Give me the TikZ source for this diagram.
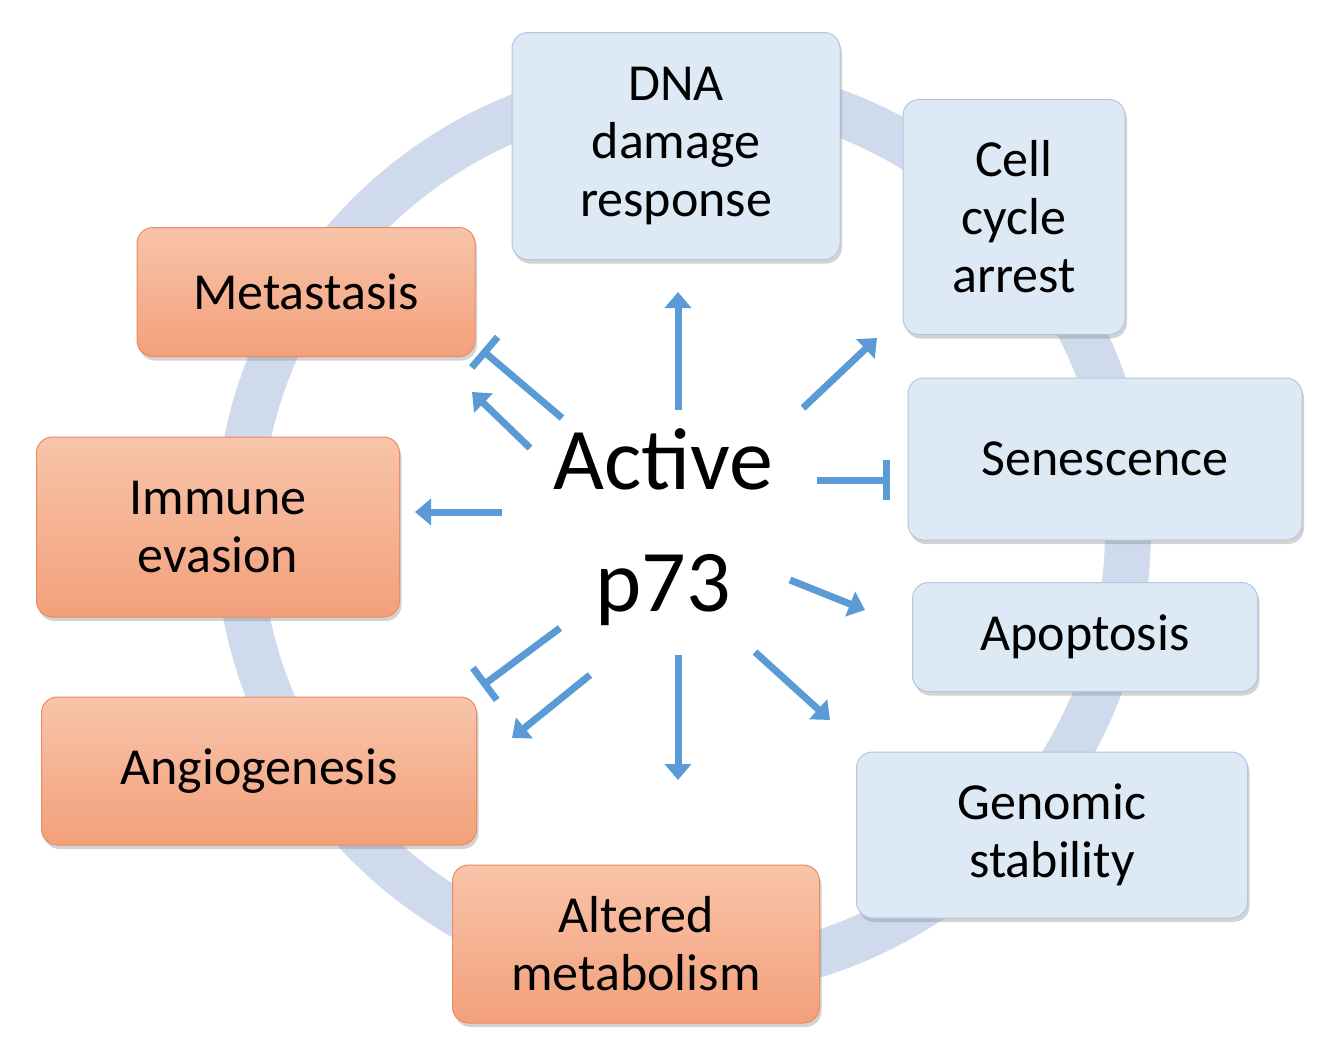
\documentclass[tikz,border=0pt]{standalone}
\usepackage{fontspec}
\setmainfont{Carlito}
\usetikzlibrary{shadows,arrows.meta}
\definecolor{ring}{RGB}{207,219,236}
\definecolor{bfill}{RGB}{222,233,246}
\definecolor{bdraw}{RGB}{180,198,222}
\definecolor{ofill}{RGB}{246,178,145}
\definecolor{otop}{RGB}{248,196,170}
\definecolor{obot}{RGB}{243,160,122}
\definecolor{odraw}{RGB}{232,140,100}
\definecolor{arr}{RGB}{91,155,213}
\begin{document}
\begin{tikzpicture}[x=1pt,y=-1pt,
 box/.style={rounded corners=16pt,font=\fontsize{52}{58}\selectfont,align=center,inner sep=0pt,
   drop shadow={shadow xshift=2pt,shadow yshift=-4pt,opacity=0.35}},
 bl/.style={box,fill=bfill,draw=bdraw,line width=1pt},
 og/.style={box,top color=otop,bottom color=obot,draw=odraw,line width=1pt},
 ar/.style={draw=arr,line width=7pt,-{Triangle[length=16pt,width=26pt]}},
 br/.style={draw=arr,line width=7pt,-{Bar[width=40pt,line width=7pt]}}]
\useasboundingbox (0,0) rectangle (1333,1060);
\draw[ring,line width=46pt] (683,530) circle (445);
\node[bl,minimum width=328pt,minimum height=227pt] (dna) at (676,146) {DNA\\damage\\response};
\node[bl,minimum width=222pt,minimum height=235pt] (cca) at (1014,217) {Cell\\cycle\\arrest};
\node[bl,minimum width=394pt,minimum height=162pt] (sen) at (1105,459) {Senescence};
\node[bl,minimum width=345pt,minimum height=109pt] (apo) at (1085,637) {Apoptosis};
\node[bl,minimum width=391pt,minimum height=166pt] (gen) at (1052,835) {Genomic\\stability};
\node[og,minimum width=367pt,minimum height=158pt] (met) at (636,944) {Altered\\metabolism};
\node[og,minimum width=435pt,minimum height=148pt] (ang) at (259,771) {Angiogenesis};
\node[og,minimum width=363pt,minimum height=180pt] (imm) at (218,527) {Immune\\evasion};
\node[og,minimum width=338pt,minimum height=129pt] (mts) at (306,292) {Metastasis};
\node[font=\fontsize{88}{122}\selectfont,align=center] (p73) at (663,527) {Active\\p73};
\coordinate (a1s) at (678,410); \coordinate (a1e) at (678,292);
\coordinate (a2s) at (803,408); \coordinate (a2e) at (877,338);
\coordinate (a3s) at (817,480); \coordinate (a3e) at (890,480);
\coordinate (a4s) at (790,580); \coordinate (a4e) at (865,610);
\coordinate (a5s) at (755,652); \coordinate (a5e) at (830,720);
\coordinate (a6s) at (678,655); \coordinate (a6e) at (678,780);
\coordinate (a7s) at (590,675); \coordinate (a7e) at (512,738);
\coordinate (a8s) at (560,628); \coordinate (a8e) at (482,686);
\coordinate (a9s) at (502,512); \coordinate (a9e) at (415,512);
\coordinate (a10s) at (530,448); \coordinate (a10e) at (472,392);
\coordinate (a11s) at (562,418); \coordinate (a11e) at (482,350);
\draw[ar] (a1s) -- (a1e);
\draw[ar] (a2s) -- (a2e);
\draw[br] (a3s) -- (a3e);
\draw[ar] (a4s) -- (a4e);
\draw[ar] (a5s) -- (a5e);
\draw[ar] (a6s) -- (a6e);
\draw[ar] (a7s) -- (a7e);
\draw[br] (a8s) -- (a8e);
\draw[ar] (a9s) -- (a9e);
\draw[ar] (a10s) -- (a10e);
\draw[br] (a11s) -- (a11e);
\end{tikzpicture}
\end{document}
